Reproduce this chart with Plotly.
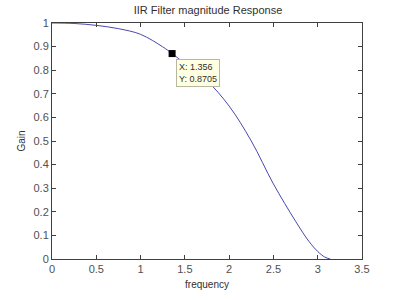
import plotly.graph_objects as go

freq = [0.0, 0.25, 0.5, 0.75, 1.0, 1.25, 1.356, 1.5, 1.75, 2.0, 2.25, 2.5, 2.75, 2.9, 3.0, 3.08, 3.1416]
gain = [1.0, 0.998, 0.99, 0.976, 0.952, 0.899, 0.8705, 0.828, 0.755, 0.648, 0.50, 0.318, 0.160, 0.075, 0.032, 0.008, 0.0]
tip_x = [1.356]
tip_y = [0.8705]
x_ticks = [0, 0.5, 1, 1.5, 2, 2.5, 3, 3.5]
x_labels = ["0", "0.5", "1", "1.5", "2", "2.5", "3", "3.5"]
y_ticks = [0, 0.1, 0.2, 0.3, 0.4, 0.5, 0.6, 0.7, 0.8, 0.9, 1]
y_labels = ["0", "0.1", "0.2", "0.3", "0.4", "0.5", "0.6", "0.7", "0.8", "0.9", "1"]

font = "Liberation Sans, Arial, sans-serif"

fig = go.Figure()
fig.add_trace(go.Scatter(x=freq, y=gain, mode="lines",
                         line=dict(color="#4848b0", width=1, shape="spline", smoothing=1.0),
                         hoverinfo="skip"))
fig.add_trace(go.Scatter(x=tip_x, y=tip_y, mode="markers",
                         marker=dict(symbol="square", size=7, color="black"),
                         hoverinfo="skip"))
fig.add_annotation(x=tip_x[0], y=tip_y[0], xref="x", yref="y",
                   text="X: 1.356<br>Y: 0.8705", showarrow=False,
                   xanchor="left", yanchor="top", xshift=4, yshift=-5,
                   align="left", bgcolor="#ffffe1", bordercolor="#b8b8a0",
                   borderwidth=1, borderpad=2,
                   font=dict(family=font, size=9, color="#303030"))

axis_common = dict(showline=True, linecolor="#404040", linewidth=1, mirror="ticks",
                   ticks="inside", ticklen=4, tickcolor="#404040", showgrid=False,
                   zeroline=False, tickfont=dict(family=font, size=11, color="#505050"))

fig.update_layout(
    width=400, height=300,
    margin=dict(l=52, r=38, t=23, b=33),
    paper_bgcolor="white", plot_bgcolor="white",
    showlegend=False,
    title=dict(text="IIR Filter magnitude Response", x=0.52, xanchor="center",
               y=0.965, yanchor="middle",
               font=dict(family=font, size=11, color="#303030")),
    xaxis=dict(range=[0, 3.5], tickvals=x_ticks, ticktext=x_labels,
               title=dict(text="frequency", font=dict(family=font, size=10, color="#303030"), standoff=6),
               **axis_common),
    yaxis=dict(range=[0, 1], tickvals=y_ticks, ticktext=y_labels,
               title=dict(text="Gain", font=dict(family=font, size=10, color="#303030"), standoff=6),
               **axis_common),
)

fig.write_html("out.html")
